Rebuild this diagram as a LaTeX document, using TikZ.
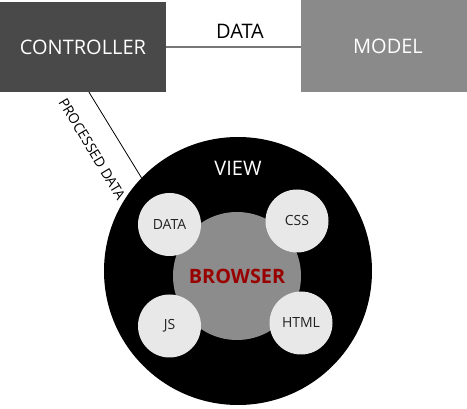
\documentclass[tikz,border=0pt]{standalone}
\usepackage{fontspec}
\setmainfont{Open Sans}
\usetikzlibrary{calc}
\definecolor{ctrlgray}{HTML}{494949}
\definecolor{modelgray}{HTML}{8A8A8A}
\definecolor{linegray}{HTML}{777777}
\definecolor{browsergray}{HTML}{8C8C8C}
\definecolor{lightgray2}{HTML}{E8E8E8}
\definecolor{darkred}{HTML}{990000}
\definecolor{textdark}{HTML}{222222}
\begin{document}
\begin{tikzpicture}[x=1pt,y=-1pt]
\tikzset{
  box/.style={rectangle, minimum width=166pt, inner sep=0pt, text=white, font=\fontsize{20}{22}\selectfont},
  small/.style={circle, fill=lightgray2, minimum size=63pt, inner sep=0pt, text=textdark, font=\fontsize{14}{16}\selectfont},
  lbl/.style={inner sep=0pt, font=\fontsize{20}{22}\selectfont}
}
\useasboundingbox (0,0) rectangle (467,409);
\node[box, fill=ctrlgray, minimum height=90pt] (ctrl) at (83,47) {CONTROLLER};
\node[box, fill=modelgray, minimum height=92pt] (model) at (384,46) {\hspace*{8pt}MODEL};
\draw[linegray, line width=1.5pt] (ctrl.east) -- (ctrl.east -| model.west);
\node[lbl, text=black] (datalbl) at (240,31) {DATA};

\node[circle, fill=black, minimum size=268pt, inner sep=0pt] (view) at (238,271) {};
\node[lbl, text=white] (viewlbl) at (238,168) {VIEW};
\node[circle, fill=browsergray, minimum size=128pt, inner sep=0pt, text=darkred, font=\fontsize{19.8}{22}\selectfont\bfseries] (browser) at (237,276) {BROWSER};

\node[small] (sdata) at (169.5,224.5) {DATA};
\node[small] (css) at (297,221) {CSS};
\node[small] (js) at (169.5,326) {JS};
\node[small] (html) at (301,323) {HTML};

\coordinate (cstart) at ($(ctrl.south)+(6,0)$);
\draw[black, line width=0.8pt] (cstart) -- (view.136);
\node[inner sep=0pt, rotate=-59, font=\fontsize{14}{16}\selectfont] (plbl) at (92,149) {PROCESSED DATA};
\end{tikzpicture}
\end{document}
